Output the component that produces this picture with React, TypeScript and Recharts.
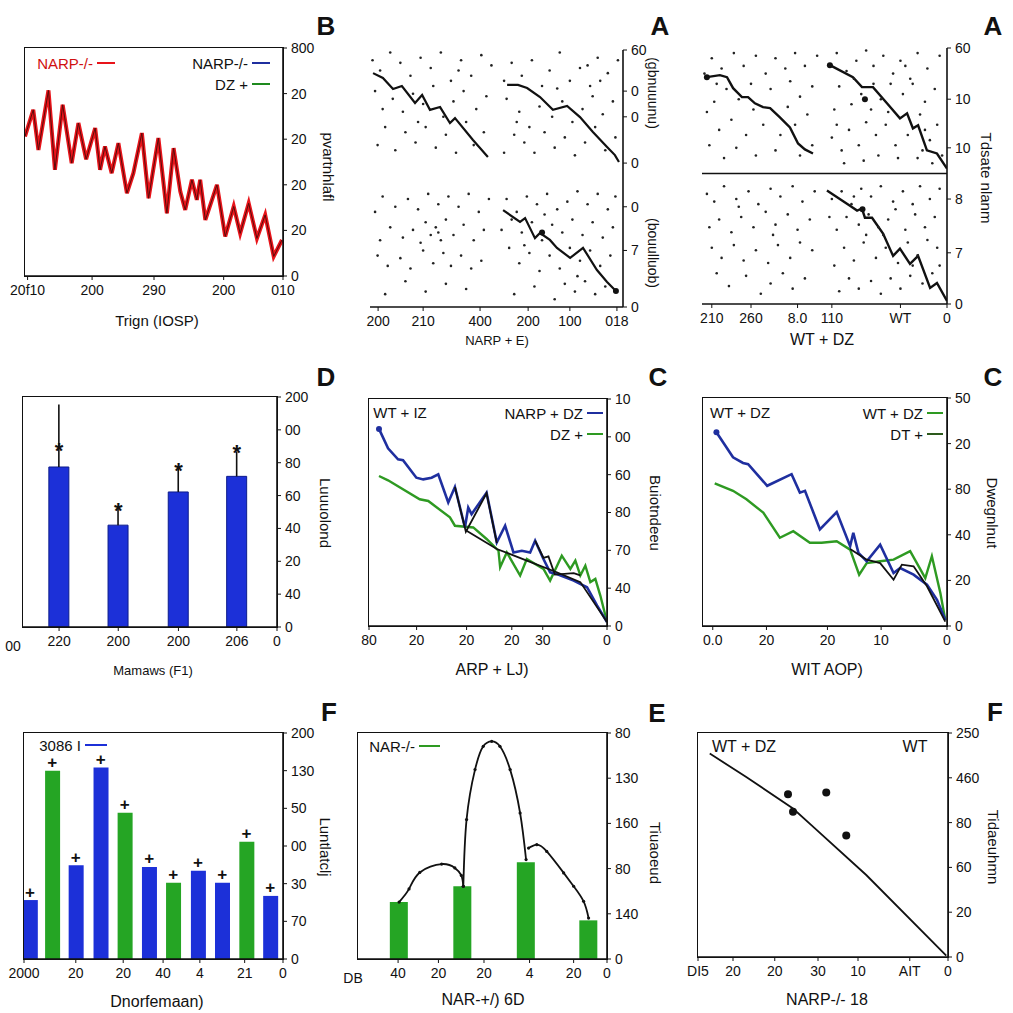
import React from 'react'
import { ComposedChart, Scatter, Line, Bar, XAxis, YAxis, ReferenceLine, ErrorBar, Cell } from 'recharts'

type P = [number, number]
const pts = (a: P[]) => a.map(([x, y]) => ({ x, y }))

const FONT = '"Liberation Sans", Arial, sans-serif'
const INK = '#111'
const BLUE_LINE = '#1f2f9f'
const GREEN_LINE = '#2e9a22'
const BLUE_BAR = '#1c30d8'
const GREEN_BAR = '#25a524'

// ---------- panel A (right) ----------
const arXTicks = [0, 19, 47, 61, 80, 96]
const arXLabels = ['0', 'WT', '110', '8.0', '260', '210']
const arYTicks = [0, 20, 41, 61, 80, 100]
const arYLabels = ['0', '7', '8', '10', '10', '60']
const arDotsTR: P[] = [[3,97],[8,92],[12,98],[15,88],[19,95],[22,90],[26,97],[30,93],[33,99],[37,95],[41,91],[45,98],[47,93],[5,84],[9,79],[14,86],[18,82],[23,86],[27,80],[31,76],[35,82],[39,78],[44,85],[46,76],[4,70],[7,64],[11,74],[16,66],[21,62],[25,70],[29,66],[33,71],[36,62],[40,68],[43,60],[47,65],[2,58],[6,55],[10,60],[20,57],[28,58],[34,56],[42,55],[24,75],[38,88],[17,93],[12,57],[30,86],[45,70],[9,68]]
const arDotsTL: P[] = [[53,97],[58,93],[62,98],[66,92],[70,96],[74,90],[78,97],[83,93],[87,98],[92,92],[96,96],[99,90],[55,85],[60,81],[64,87],[72,84],[80,86],[85,80],[90,84],[95,79],[57,74],[62,70],[68,66],[75,70],[82,66],[88,72],[93,68],[98,75],[55,62],[60,58],[70,60],[78,58],[86,61],[91,57],[97,62],[65,77],[79,76],[94,86]]
const arDotsBR: P[] = [[3,45],[7,41],[11,46],[14,39],[18,44],[22,40],[27,46],[31,42],[35,45],[39,39],[43,44],[47,41],[5,34],[9,30],[13,35],[17,29],[24,33],[28,30],[32,35],[36,31],[41,34],[45,29],[4,22],[8,25],[12,19],[16,24],[20,16],[25,22],[29,18],[34,24],[38,17],[42,22],[46,15],[6,12],[10,8],[15,11],[19,6],[23,10],[27,4],[31,9],[36,6],[40,10],[44,5],[21,37],[33,27],[14,15],[38,42],[26,27],[48,34],[3,15]]
const arDotsBL: P[] = [[54,44],[59,40],[63,46],[68,42],[72,45],[77,39],[81,44],[86,41],[91,46],[95,40],[98,43],[56,33],[61,29],[65,35],[70,31],[74,36],[79,30],[84,34],[88,28],[93,33],[97,30],[55,21],[60,24],[64,18],[69,23],[73,16],[78,21],[83,17],[87,23],[92,18],[96,22],[58,10],[63,6],[67,12],[72,8],[76,4],[82,11],[89,7],[94,12],[71,27],[85,38]]
const arLineTR: P[] = [[47.8,93.3],[38.4,88.6],[34.7,84.7],[30.2,84.7],[24.5,78.4],[19.2,72.5],[16.3,74.5],[13.9,68.6],[11.8,69.8],[8.2,60],[4.1,58.8],[0,52.9]]
const arLineTL: P[] = [[98,88.6],[92.7,89.4],[89.8,88.6],[87.3,84.3],[83.7,80.8],[81.2,80.8],[78.4,78.4],[75.1,76.9],[72.2,76.5],[68.2,72.9],[64.1,69],[60.8,62.7],[58,60.4],[54.7,58.8]]
const arLineBR: P[] = [[49,44.3],[39.6,38.4],[36.7,36.5],[34.7,37.3],[33.5,33.7],[30.6,33.7],[26.1,27.5],[22,18.8],[19.2,21.6],[15.1,15.7],[11.8,18.8],[6.9,6.3],[4.1,8.2],[0,1.2]]
const arMarks: P[] = [[47.8,93.3],[98,88.6],[33.5,80],[34.5,37]]

// ---------- panel A (middle) ----------
const amXTicks = [2.4, 21, 37.5, 56.5, 79, 96.8]
const amXLabels = ['018', '100', '200', '400', '210', '200']
const amYTicks = [0, 22, 39, 56, 74, 84, 100]
const amYLabels = ['0', '7', '0', '0', '0', '0', '60']
const amDotsTR: P[] = [[2,96],[6,91],[10,97],[13,86],[17,93],[21,88],[25,99],[29,92],[32,86],[36,96],[40,90],[44,95],[47,88],[4,80],[8,75],[12,82],[16,77],[20,72],[24,80],[28,74],[33,78],[37,70],[41,76],[46,81],[3,66],[7,61],[11,70],[15,64],[19,59],[23,66],[27,62],[31,68],[35,60],[39,64],[43,67],[47,60],[9,88],[26,85],[42,72],[14,94]]
const amDotsTL: P[] = [[52,94],[56,98],[60,90],[64,96],[68,88],[72,99],[76,93],[80,97],[84,90],[88,95],[92,99],[96,92],[99,96],[54,82],[58,77],[63,84],[67,80],[71,74],[75,86],[79,79],[83,83],[87,76],[91,81],[95,77],[98,84],[55,68],[59,63],[62,72],[66,60],[70,67],[74,62],[78,70],[82,64],[86,68],[90,61],[94,70],[97,63],[65,92],[81,72]]
const amDotsBR: P[] = [[3,43],[6,38],[10,44],[14,40],[18,45],[22,41],[26,38],[30,44],[34,40],[38,43],[42,37],[46,42],[4,31],[8,27],[12,33],[16,28],[20,34],[24,29],[28,32],[32,26],[36,33],[40,29],[44,34],[48,30],[5,20],[9,16],[13,22],[17,18],[21,23],[25,15],[29,20],[33,14],[37,21],[41,17],[45,23],[7,8],[11,5],[15,10],[19,6],[23,9],[27,3],[35,8],[43,5],[31,36],[39,24],[18,12]]
const amDotsBL: P[] = [[53,42],[57,37],[61,44],[65,39],[69,43],[73,40],[77,44],[81,38],[85,42],[90,39],[95,43],[98,37],[55,30],[59,26],[63,32],[67,28],[70,34],[72,26],[74,31],[76,28],[78,33],[80,25],[83,30],[87,27],[92,31],[96,26],[56,18],[60,15],[64,20],[68,16],[71,21],[75,17],[79,22],[84,15],[88,19],[93,16],[97,20],[62,7],[70,9],[78,6],[86,10],[94,5],[73,29]]
const amLineTR: P[] = [[45.8,86.4],[41.5,86.4],[37.9,85.2],[32.8,81.7],[27.7,76.7],[22.1,78.2],[17,73.9],[11.9,68.1],[6.3,62.3],[3.2,59.1],[1.6,56.4]]
const amLineTL: P[] = [[98.8,91],[94.9,89.1],[90.9,84.8],[87.4,86],[82.2,79.4],[79.4,82.5],[76.3,76.7],[72.3,77.8],[68.4,71.6],[66.4,73.5],[59.3,65],[53.4,58.4]]
const amLineBR: P[] = [[47.4,37.7],[40.7,33.1],[38.7,34.6],[34.8,26.8],[32.8,28.8],[28.9,26.1],[26.1,23],[20.9,19.1],[15.8,23],[10.3,14.4],[6.3,9.7],[2.8,6.2]]
const amMarks: P[] = [[2.8,6.2],[32,29]]

// ---------- panel B ----------
const bXTicks = [0, 23, 50, 74, 99]
const bXLabels = ['010', '200', '290', '200', '20f10']
const bYTicks = [0, 20, 40, 60, 80, 100]
const bYLabels = ['0', '20', '20', '20', '20', '800']
const bRed: P[] = [[100,61.2],[96.8,72.9],[94.8,55.3],[90.9,81.4],[88.4,46.6],[85.4,75.1],[81.9,49.5],[79.3,67.1],[76.3,51.2],[72.8,64.9],[70.9,46.6],[69,56.8],[66.4,45.1],[63.8,58.3],[60.5,36.3],[58,45.1],[54.7,62.7],[52.1,34.1],[48.3,60.5],[45,27.5],[42.4,56.1],[39.8,37],[37.9,29],[35.3,42.2],[33.4,33.4],[32.1,42.2],[30.1,24.6],[25.6,40],[22.4,17.3],[19.1,30.5],[16.6,18.7],[13.3,31.9],[10.1,16.5],[6.9,26.8],[3.6,8.6],[0.4,15.8]]

// ---------- panel C (right) ----------
const crXTicks = [0, 27, 49, 74, 96]
const crXLabels = ['0', '10', '20', '20', '0.0']
const crYTicks = [0, 20, 40, 60, 80, 100]
const crYLabels = ['0', '20', '40', '80', '20', '50']
const crBlue: P[] = [[94.5,85],[87.7,74],[83.6,71.5],[81.5,71],[73.7,61.5],[63.7,66.6],[60.3,58.5],[58.2,59.3],[52.1,42.4],[45.2,50],[39.7,35],[38.4,40.9],[36.3,32.1],[32.9,28.4],[27.4,35.7],[21.9,23.2],[19.2,25.4],[13.7,22.5],[8.2,18.1],[4.1,11.5],[0.7,2.6]]
const crGreen: P[] = [[95.2,62.6],[87.7,59.3],[82.2,55.6],[75.3,49.7],[68.5,38.7],[63,41.6],[56.2,36.5],[51.4,36.5],[45.2,37.2],[39.7,33.5],[36,22.5],[32.9,27.6],[27.4,28.4],[21.9,29.1],[15.1,32.8],[8.9,21],[6.2,30.6],[2.7,14.4],[0.7,2.6]]
const crBlack: P[] = [[39.7,33.8],[32.9,29.1],[27.4,27.6],[21.9,20.3],[18.5,26.9],[13.7,26.2],[8.2,17.4],[0.7,1.9]]

// ---------- panel C (middle) ----------
const cmXTicks = [0, 27, 40, 59, 80, 100]
const cmXLabels = ['0', '30', '20', '20', '20', '80']
const cmYTicks = [0, 20, 40, 60, 80, 100, 120]
const cmYLabels = ['0', '40', '70', '80', '60', '00', '10']
const cmBlue: P[] = [[95.8,104.2],[92,93.9],[87.8,88.1],[85.7,87.7],[80.1,78.4],[77.2,77.5],[73.7,78.4],[70.9,80.2],[66.7,65.3],[63.9,73.5],[59.7,52.1],[58.3,62.6],[56.9,59.1],[50.6,70.5],[46.3,44.2],[42.8,53],[39.3,38.9],[35.8,39.8],[32.3,38.9],[30.2,45.1],[26.7,35.4],[23.9,28.4],[21.1,27.5],[14,24],[8.4,20.5],[4.2,10.9],[0,2.1]]
const cmBlackZig: P[] = [[63.9,73.5],[59.3,49.8],[50.6,70.2],[46.3,43.9]]
const cmBlackTrend: P[] = [[59,50.4],[46.3,40.7],[33.7,34.6],[21.1,28.4],[11.2,23.2],[0,2.1]]
const cmBlackTail: P[] = [[30.2,45.1],[26.7,36],[24.6,36.8],[21.9,27.2],[14,27.9],[11.2,26.8]]
const cmGreen: P[] = [[95.8,79.3],[92,77],[78.7,67],[75.1,66.1],[66,57.4],[63.9,53],[56.2,52.1],[50.6,46],[45.6,39.8],[44.9,31.1],[42.1,38.9],[36.5,26.7],[33.7,35.4],[26.7,30.2],[23.9,24],[19,37.2],[15.4,30.2],[13.3,34.6],[11.2,26.7],[9.1,31.9],[7,23.2],[4.9,24.9],[2.8,16.1],[0,2.1]]

// ---------- panel D ----------
const dXTicks = [0, 15.8, 38.8, 62.5, 85.8]
const dXLabels = ['0', '206', '200', '200', '220']
const dYTicks = [0, 20, 40, 60, 80, 100, 120, 140]
const dYLabels = ['0', '40', '20', '40', '60', '80', '00', '200']
const dPos = [85.8, 62.5, 38.8, 15.8]
const dVal = [97.4, 62, 82.2, 91.7]
const dErr = [38, 10.4, 14.6, 15.2]
const dStar = [110, 73.4, 98.2, 109]

// ---------- panel E ----------
const eXTicks = [0, 13.4, 31.1, 49.4, 67.7, 83.9]
const eXLabels = ['0', '20', '4', '20', '20', '40']
const eYTicks = [0, 20, 40, 60, 80, 100]
const eYLabels = ['0', '140', '80', '160', '130', '80']
const ePos = [83.5, 58, 32.5, 7.4]
const eVal = [25.2, 32.2, 42.8, 17.1]
const eCurve1: P[] = [[83.5,25.2],[79.5,31],[75.2,38.3],[66.4,42],[61.1,40.3],[58.5,37],[57.7,32.2]]
const eCurve2: P[] = [[57.7,32.2],[56.4,61.7],[53,83.8],[49.7,94.1],[46.3,96.3],[43,94.1],[38.9,83.8],[34.9,64.6],[32.5,44]]
const eCurve3: P[] = [[31.5,49.1],[28.2,50.6],[24.2,47.6],[17.4,38.1],[13.4,32.2],[9.4,25.5],[7.4,18.1]]

// ---------- panel F (right) ----------
const frXTicks = [0, 15.3, 36, 52, 69.3, 86, 100]
const frXLabels = ['0', 'AIT', '10', '30', '20', '20', 'DI5']
const frYTicks = [0, 20, 40, 60, 80, 100]
const frYLabels = ['0', '20', '60', '80', '460', '250']
const frLine: P[] = [[95.3,90.8],[80.7,80.4],[62,66.3],[54,58.2],[32.7,36.6],[0.7,0.6]]
const frDots: P[] = [[64,72.7],[48.7,73.4],[62,64.8],[40.7,54.2]]

// ---------- panel F (left) ----------
const flXTicks = [0, 14.8, 32.1, 46.3, 61.7, 80, 100]
const flXLabels = ['0', '21', '4', '40', '20', '20', '2000']
const flYTicks = [0, 20, 40, 60, 80, 100, 120]
const flYLabels = ['0', '70', '30', '00', '50', '130', '200']
const flPos = [97.7, 89.1, 80, 70.4, 61.1, 51.7, 42.4, 32.8, 23.5, 14.1, 4.9]
const flVal = [31.3, 99.9, 49.8, 101.7, 77.6, 48.9, 40.5, 46.9, 40.5, 62.3, 33.5]
const flGroup = ['b', 'g', 'b', 'b', 'g', 'b', 'g', 'b', 'b', 'g', 'b']

// ---------- layout helpers ----------
const MT = 6, ML = 4, YW = 44, XH = 30
type Rect = { L: number; T: number; R: number; B: number }

const tickStyle = { fill: INK, fontSize: 14, fontFamily: FONT }
const fmt = (ticks: number[], labels: string[]) => (v: number) => labels[ticks.indexOf(v)] ?? ''

function xAx(ticks: number[], labels: string[], domain: [number, number] = [0, 100], hide = false) {
    return (
        <XAxis type="number" dataKey="x" domain={domain} reversed allowDataOverflow ticks={ticks}
            tickFormatter={fmt(ticks, labels)} interval={0} height={XH} tick={hide ? false : tickStyle}
            axisLine={hide ? false : { stroke: INK, strokeWidth: 1.6 }} tickLine={hide ? false : { stroke: INK }}
            tickSize={4} tickMargin={5} />
    )
}
function yAx(ticks: number[], labels: string[], domain: [number, number] = [0, 100], hide = false) {
    return (
        <YAxis type="number" dataKey="y" orientation="right" domain={domain} allowDataOverflow ticks={ticks}
            tickFormatter={fmt(ticks, labels)} interval={0} width={YW} tick={hide ? false : tickStyle}
            axisLine={hide ? false : { stroke: INK, strokeWidth: 1.6 }} tickLine={hide ? false : { stroke: INK }}
            tickSize={4} tickMargin={4} />
    )
}

function Chart({ r, children, data }: { r: Rect; children: React.ReactNode; data?: any[] }) {
    const w = r.R - r.L + ML + YW
    const h = r.B - r.T + MT + XH
    return (
        <div style={{ position: 'absolute', left: r.L - ML, top: r.T - MT }}>
            <ComposedChart width={w} height={h} data={data} margin={{ top: MT, left: ML, right: 0, bottom: 0 }}>
                {children}
            </ComposedChart>
        </div>
    )
}

function Frame({ r }: { r: Rect }) {
    return <div style={{ position: 'absolute', left: r.L - 1, top: r.T - 1, width: r.R - r.L + 2, height: r.B - r.T + 2, border: `1.6px solid ${INK}`, boxSizing: 'border-box', pointerEvents: 'none' }} />
}

function Txt({ x, y, children, size = 15, anchor = 'middle', rotate = 0, color = INK, bold = false }: any) {
    const tx = anchor === 'end' ? '-100%' : anchor === 'start' ? '0%' : '-50%'
    return (
        <div style={{ position: 'absolute', left: x, top: y, transform: `translate(${tx}, -50%) rotate(${rotate}deg)`, fontFamily: FONT, fontSize: size, color, fontWeight: bold ? 700 : 400, whiteSpace: 'nowrap', lineHeight: 1 }}>
            {children}
        </div>
    )
}

function Key({ x1, x2, y, color, text, textColor = INK }: any) {
    return (
        <>
            <div style={{ position: 'absolute', left: x1, top: y - 1, width: x2 - x1, height: 2.2, background: color }} />
            <Txt x={x1 - 4} y={y} anchor="end" color={textColor}>{text}</Txt>
        </>
    )
}

const dot = (r: number, fill = '#222') => (p: any) => <circle cx={p.cx} cy={p.cy} r={r} fill={fill} />
const glyph = (ch: string, size: number, dy: number) => (p: any) => (
    <text x={p.cx} y={p.cy + dy} textAnchor="middle" fontSize={size} fontFamily={FONT} fontWeight={700} fill={INK}>{ch}</text>
)

function line(d: P[], color: string, width = 2.2, key?: string, type: any = 'linear') {
    return <Line key={key} data={pts(d)} dataKey="y" type={type} stroke={color} strokeWidth={width} dot={false} isAnimationActive={false} />
}
function dots(d: P[], key: string, r = 1.3) {
    return <Scatter key={key} data={pts(d)} dataKey="y" shape={dot(r)} isAnimationActive={false} />
}

// ---------- rects ----------
const rAR: Rect = { L: 702, T: 48, R: 947, B: 304 }
const rAM: Rect = { L: 370, T: 50, R: 623, B: 307 }
const rB: Rect = { L: 25, T: 48, R: 283, B: 276 }
const rCR: Rect = { L: 703, T: 398, R: 947, B: 626 }
const rCM: Rect = { L: 369, T: 399, R: 607, B: 626 }
const rD: Rect = { L: 23, T: 397, R: 277, B: 627 }
const rFR: Rect = { L: 698, T: 733, R: 948, B: 957 }
const rE: Rect = { L: 358, T: 733, R: 607, B: 959 }
const rFL: Rect = { L: 24, T: 733, R: 283, B: 959 }

export default function App() {
    const dBars = dPos.map((x, i) => ({ x, y: dVal[i], err: [0, dErr[i]] }))
    const dStars = dPos.map((x, i) => ({ x, y: dStar[i] }))
    const eBars = ePos.map((x, i) => ({ x, y: eVal[i] }))
    const flBars = flPos.map((x, i) => ({ x, y: flVal[i] }))
    const flPlus = flPos.map((x, i) => ({ x, y: flVal[i] + 4.5 }))
    const eDot = { r: 1.6, fill: INK, stroke: 'none' }

    return (
        <div style={{ position: 'absolute', left: 0, top: 0, width: 1013, height: 1013, background: '#fff', overflow: 'hidden' }}>
            <style>{'.recharts-surface{overflow:visible}'}</style>

            {/* A right */}
            <Chart r={rAR}>
                {xAx(arXTicks, arXLabels)}
                {yAx(arYTicks, arYLabels)}
                <ReferenceLine y={51} stroke={INK} strokeWidth={1.6} />
                {dots(arDotsTR, 'tr')}{dots(arDotsTL, 'tl')}{dots(arDotsBR, 'br')}{dots(arDotsBL, 'bl')}
                {line(arLineTR, INK, 2.4, 'ltr')}{line(arLineTL, INK, 2.4, 'ltl')}{line(arLineBR, INK, 2.4, 'lbr')}
                <Scatter data={pts(arMarks)} dataKey="y" shape={dot(3, INK)} isAnimationActive={false} />
            </Chart>
            <Txt x={993} y={26} size={26} bold>A</Txt>
            <Txt x={986} y={178} rotate={90}>Tdsate nlanm</Txt>
            <Txt x={822} y={340} size={16}>WT + DZ</Txt>

            {/* A middle */}
            <Chart r={rAM}>
                {xAx(amXTicks, amXLabels)}
                {yAx(amYTicks, amYLabels)}
                {dots(amDotsTR, 'tr')}{dots(amDotsTL, 'tl')}{dots(amDotsBR, 'br')}{dots(amDotsBL, 'bl')}
                {line(amLineTR, INK, 2.2, 'ltr')}{line(amLineTL, INK, 2.2, 'ltl')}{line(amLineBR, INK, 2.2, 'lbr')}
                <Scatter data={pts(amMarks)} dataKey="y" shape={dot(3, INK)} isAnimationActive={false} />
            </Chart>
            <Txt x={660} y={26} size={26} bold>A</Txt>
            <Txt x={653} y={93} rotate={90} size={14}>(gbnuuunu)</Txt>
            <Txt x={653} y={253} rotate={90} size={14}>(bouulluob)</Txt>
            <Txt x={497} y={340} size={13}>NARP + E)</Txt>

            {/* B */}
            <Chart r={rB}>
                {xAx(bXTicks, bXLabels)}
                {yAx(bYTicks, bYLabels)}
                {line(bRed, '#e8141a', 4, 'red')}
                {line(bRed, '#5a0a0a', 1, 'core')}
            </Chart>
            <Frame r={rB} />
            <Txt x={326} y={26} size={26} bold>B</Txt>
            <Txt x={328} y={167} rotate={90}>pvartnhlafl</Txt>
            <Txt x={157} y={320}>Trign  (IOSP)</Txt>
            <Key x1={97} x2={115} y={63} color="#e8141a" text="NARP-/-" textColor="#d01010" />
            <Key x1={252} x2={270} y={63} color={BLUE_LINE} text="NARP-/-" />
            <Key x1={252} x2={270} y={84} color="#1e8a1e" text="DZ +" />

            {/* C right */}
            <Chart r={rCR}>
                {xAx(crXTicks, crXLabels)}
                {yAx(crYTicks, crYLabels)}
                {line(crGreen, GREEN_LINE, 2.4, 'g')}
                {line(crBlue, BLUE_LINE, 2.6, 'b')}
                {line(crBlack, INK, 1.8, 'k')}
                <Scatter data={pts([[94.5, 85]])} dataKey="y" shape={dot(3, BLUE_LINE)} isAnimationActive={false} />
            </Chart>
            <Frame r={rCR} />
            <Txt x={993} y={377} size={26} bold>C</Txt>
            <Txt x={992} y={513} rotate={90}>Dwegnlnut</Txt>
            <Txt x={827} y={670} size={16}>WIT  AOP)</Txt>
            <Txt x={740} y={412}>WT + DZ</Txt>
            <Key x1={927} x2={943} y={413} color={GREEN_LINE} text="WT + DZ" />
            <Key x1={927} x2={943} y={434} color="#2d5a1d" text="DT +" />

            {/* C middle */}
            <Chart r={rCM}>
                {xAx(cmXTicks, cmXLabels, [0, 100])}
                {yAx(cmYTicks, cmYLabels, [0, 120])}
                {line(cmGreen, GREEN_LINE, 2.4, 'g')}
                {line(cmBlue, BLUE_LINE, 2.6, 'b')}
                {line(cmBlackTrend, INK, 1.8, 'k1')}
                {line(cmBlackZig, INK, 1.8, 'k2')}
                {line(cmBlackTail, INK, 1.8, 'k3')}
                <Scatter data={pts([[95.8, 104.2]])} dataKey="y" shape={dot(3, BLUE_LINE)} isAnimationActive={false} />
            </Chart>
            <Frame r={rCM} />
            <Txt x={658} y={377} size={26} bold>C</Txt>
            <Txt x={655} y={513} rotate={90}>Buiotndeeu</Txt>
            <Txt x={492} y={670} size={16}>ARP + LJ)</Txt>
            <Txt x={400} y={412}>WT + IZ</Txt>
            <Key x1={587} x2={603} y={413} color={BLUE_LINE} text="NARP + DZ" />
            <Key x1={587} x2={603} y={434} color={GREEN_LINE} text="DZ +" />

            {/* D */}
            <Chart r={rD} data={dBars}>
                {xAx(dXTicks, dXLabels)}
                {yAx(dYTicks, dYLabels, [0, 140])}
                <Bar dataKey="y" barSize={20} fill={BLUE_BAR} stroke="#0d1c8c" strokeWidth={1} isAnimationActive={false}>
                    <ErrorBar dataKey="err" width={0} stroke={INK} strokeWidth={1.6} direction="y" />
                </Bar>
                <Scatter data={dStars} dataKey="y" shape={glyph('*', 22, 12)} isAnimationActive={false} />
            </Chart>
            <Frame r={rD} />
            <Txt x={326} y={377} size={26} bold>D</Txt>
            <Txt x={325} y={513} rotate={90}>Luuuolond</Txt>
            <Txt x={153} y={670} size={13}>Mamaws  (F1)</Txt>
            <Txt x={13} y={646} size={14}>00</Txt>

            {/* F right */}
            <Chart r={rFR}>
                {xAx(frXTicks, frXLabels)}
                {yAx(frYTicks, frYLabels)}
                {line(frLine, INK, 1.8, 'l')}
                <Scatter data={pts(frDots)} dataKey="y" shape={dot(4, INK)} isAnimationActive={false} />
            </Chart>
            <Frame r={rFR} />
            <Txt x={995} y={712} size={26} bold>F</Txt>
            <Txt x={993} y={847} rotate={90}>Tidaeuhmn</Txt>
            <Txt x={827} y={1000} size={16}>NARP-/- 18</Txt>
            <Txt x={915} y={747} size={16}>WT</Txt>
            <Txt x={744} y={747} size={16}>WT + DZ</Txt>

            {/* E: bars, then the fitted curve drawn on a matching overlay */}
            <Chart r={rE} data={eBars}>
                {xAx(eXTicks, eXLabels)}
                {yAx(eYTicks, eYLabels)}
                <Bar dataKey="y" barSize={18} fill={GREEN_BAR} isAnimationActive={false} />
            </Chart>
            <Chart r={rE}>
                {xAx(eXTicks, eXLabels, [0, 100], true)}
                {yAx(eYTicks, eYLabels, [0, 100], true)}
                <Line data={pts(eCurve1)} dataKey="y" type="natural" stroke={INK} strokeWidth={1.8} dot={eDot} isAnimationActive={false} />
                <Line data={pts(eCurve2)} dataKey="y" type="natural" stroke={INK} strokeWidth={1.8} dot={eDot} isAnimationActive={false} />
                <Line data={pts(eCurve3)} dataKey="y" type="natural" stroke={INK} strokeWidth={1.8} dot={eDot} isAnimationActive={false} />
            </Chart>
            <Frame r={rE} />
            <Txt x={657} y={713} size={26} bold>E</Txt>
            <Txt x={655} y={853} rotate={90}>Tiuaoeud</Txt>
            <Txt x={483} y={1000} size={16}>NAR-+/) 6D</Txt>
            <Txt x={353} y={978} size={14}>DB</Txt>
            <Key x1={419} x2={440} y={746} color={GREEN_LINE} text="NAR-/-" />

            {/* F left */}
            <Chart r={rFL} data={flBars}>
                {xAx(flXTicks, flXLabels)}
                {yAx(flYTicks, flYLabels, [0, 120])}
                <Bar dataKey="y" barSize={15} isAnimationActive={false}>
                    {flGroup.map((g, i) => <Cell key={i} fill={g === 'b' ? BLUE_BAR : GREEN_BAR} />)}
                </Bar>
                <Scatter data={flPlus} dataKey="y" shape={glyph('+', 17, 6)} isAnimationActive={false} />
            </Chart>
            <Frame r={rFL} />
            <Txt x={329} y={712} size={26} bold>F</Txt>
            <Txt x={325} y={847} rotate={90}>Luntlatclj</Txt>
            <Txt x={157} y={1002} size={16}>Dnorfemaan)</Txt>
            <Key x1={85} x2={107} y={745} color={BLUE_BAR} text="3086 I" />
        </div>
    )
}
